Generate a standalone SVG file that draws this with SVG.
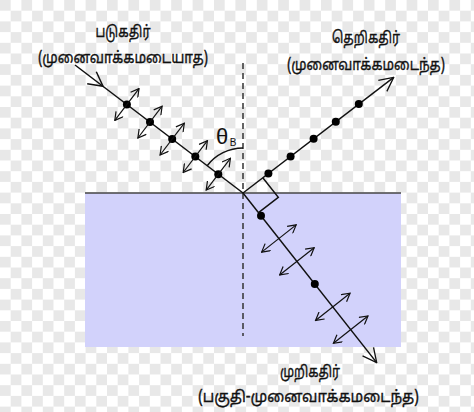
<svg xmlns="http://www.w3.org/2000/svg" width="474" height="412" viewBox="0 0 474 412">
<defs>
<pattern id="checker" x="0" y="0" width="21.4" height="21.4" patternUnits="userSpaceOnUse">
<rect width="21.4" height="21.4" fill="#ffffff"/>
<rect width="10.7" height="10.7" fill="#e8e8e8"/>
<rect x="10.7" y="10.7" width="10.7" height="10.7" fill="#e8e8e8"/>
</pattern>
<marker id="open" viewBox="-9 -5 10 10" markerWidth="10" markerHeight="10" refX="0" refY="0" orient="auto-start-reverse" markerUnits="userSpaceOnUse">
<path d="M-8,-4.5 L0,0 L-8,4.5" fill="none" stroke="#111" stroke-width="1.2"/>
</marker>
<marker id="openbig" viewBox="-15 -8 16 16" markerWidth="16" markerHeight="16" refX="0" refY="0" orient="auto" markerUnits="userSpaceOnUse">
<path d="M-14,-7 L0,0 L-14,7" fill="none" stroke="#111" stroke-width="1.3"/>
</marker>
<g id="da20"><line x1="-20" y1="0" x2="20" y2="0" class="dbl" marker-start="url(#open)" marker-end="url(#open)"/></g>
<g id="da22"><line x1="-22" y1="0" x2="22" y2="0" class="dbl" marker-start="url(#open)" marker-end="url(#open)"/></g>
</defs>
<style>
.ray{stroke:#111;stroke-width:1.5;fill:none}
.dbl{stroke:#111;stroke-width:1.2;fill:none}
.dot{fill:#000}
.lbl{font-family:"Noto Sans Tamil","Noto Sans","Liberation Sans",sans-serif;font-size:16px;fill:#111;stroke:#111;stroke-width:0.35;text-anchor:middle}
</style>
<rect width="474" height="412" fill="url(#checker)"/>
<g id="medium">
<rect x="85" y="193" width="316" height="154" fill="#d2d2fb"/>
<line x1="85" y1="193" x2="401" y2="193" stroke="#444" stroke-width="1.5"/>
</g>
<g id="normal">
<line x1="243" y1="63" x2="243" y2="336" stroke="#333" stroke-width="1.5" stroke-dasharray="6,4"/>
</g>
<g id="connectors">
<g id="incident">
<line class="ray" x1="75" y1="65" x2="243" y2="193"/>
<path class="ray" d="M96.3,71.8 L103,86.3 L87.2,83.7" stroke-width="1.3"/>
<circle class="dot" cx="218.3" cy="174.2" r="4"/>
<circle class="dot" cx="195.3" cy="156.6" r="4"/>
<circle class="dot" cx="172.2" cy="139.1" r="4"/>
<circle class="dot" cx="150.0" cy="122.1" r="4"/>
<circle class="dot" cx="126.9" cy="104.5" r="4"/>
<use href="#da20" transform="translate(218.3,174.2) rotate(-52.7)"/>
<use href="#da20" transform="translate(195.3,156.6) rotate(-52.7)"/>
<use href="#da20" transform="translate(172.2,139.1) rotate(-52.7)"/>
<use href="#da20" transform="translate(150.0,122.1) rotate(-52.7)"/>
<use href="#da20" transform="translate(126.9,104.5) rotate(-52.7)"/>
</g>
<g id="reflected">
<line class="ray" x1="243" y1="193" x2="393.7" y2="77.3" marker-end="url(#openbig)"/>
<circle class="dot" cx="268.4" cy="173.5" r="4"/>
<circle class="dot" cx="290.6" cy="156.5" r="4"/>
<circle class="dot" cx="313.6" cy="138.8" r="4"/>
<circle class="dot" cx="335.8" cy="121.7" r="4"/>
<circle class="dot" cx="358.8" cy="104.1" r="4"/>
</g>
<g id="refracted">
<line class="ray" x1="243" y1="193" x2="376.7" y2="362.6" marker-end="url(#openbig)"/>
<circle class="dot" cx="261.0" cy="215.8" r="4"/>
<circle class="dot" cx="314.8" cy="284.1" r="4"/>
<use href="#da22" transform="translate(278.9,238.5) rotate(-38.3)"/>
<use href="#da22" transform="translate(296.9,261.3) rotate(-38.3)"/>
<use href="#da22" transform="translate(332.8,306.8) rotate(-38.3)"/>
<use href="#da22" transform="translate(350.7,329.6) rotate(-38.3)"/>
</g>
<path class="ray" d="M262.8,177.8 L278.3,197.4 L258.5,212.6" stroke-width="1.3"/>
<path class="ray" d="M207.2,165.7 A45,45 0 0 1 243,148" stroke-width="1.3"/>
</g>
<g id="theta">
<text x="222" y="144" font-family="'Liberation Sans',sans-serif" font-size="22" fill="#111" text-anchor="middle">θ</text>
<text x="233" y="146" font-family="'Liberation Sans',sans-serif" font-size="10" fill="#111" text-anchor="middle">B</text>
</g>
<g id="label-incident">
<text class="lbl" x="123" y="37" textLength="55" lengthAdjust="spacingAndGlyphs">படுகதிர்</text>
<text class="lbl" x="123" y="63" textLength="170" lengthAdjust="spacingAndGlyphs">(முனைவாக்கமடையாத)</text>
</g>
<g id="label-reflected">
<text class="lbl" x="366" y="43" textLength="68" lengthAdjust="spacingAndGlyphs">தெறிகதிர்</text>
<text class="lbl" x="366" y="70" textLength="158" lengthAdjust="spacingAndGlyphs">(முனைவாக்கமடைந்த)</text>
</g>
<g id="label-refracted">
<text class="lbl" x="310" y="377" textLength="60" lengthAdjust="spacingAndGlyphs">முறிகதிர்</text>
<text class="lbl" x="308.5" y="402" textLength="221" lengthAdjust="spacingAndGlyphs">(பகுதி-முனைவாக்கமடைந்த)</text>
</g>
</svg>
